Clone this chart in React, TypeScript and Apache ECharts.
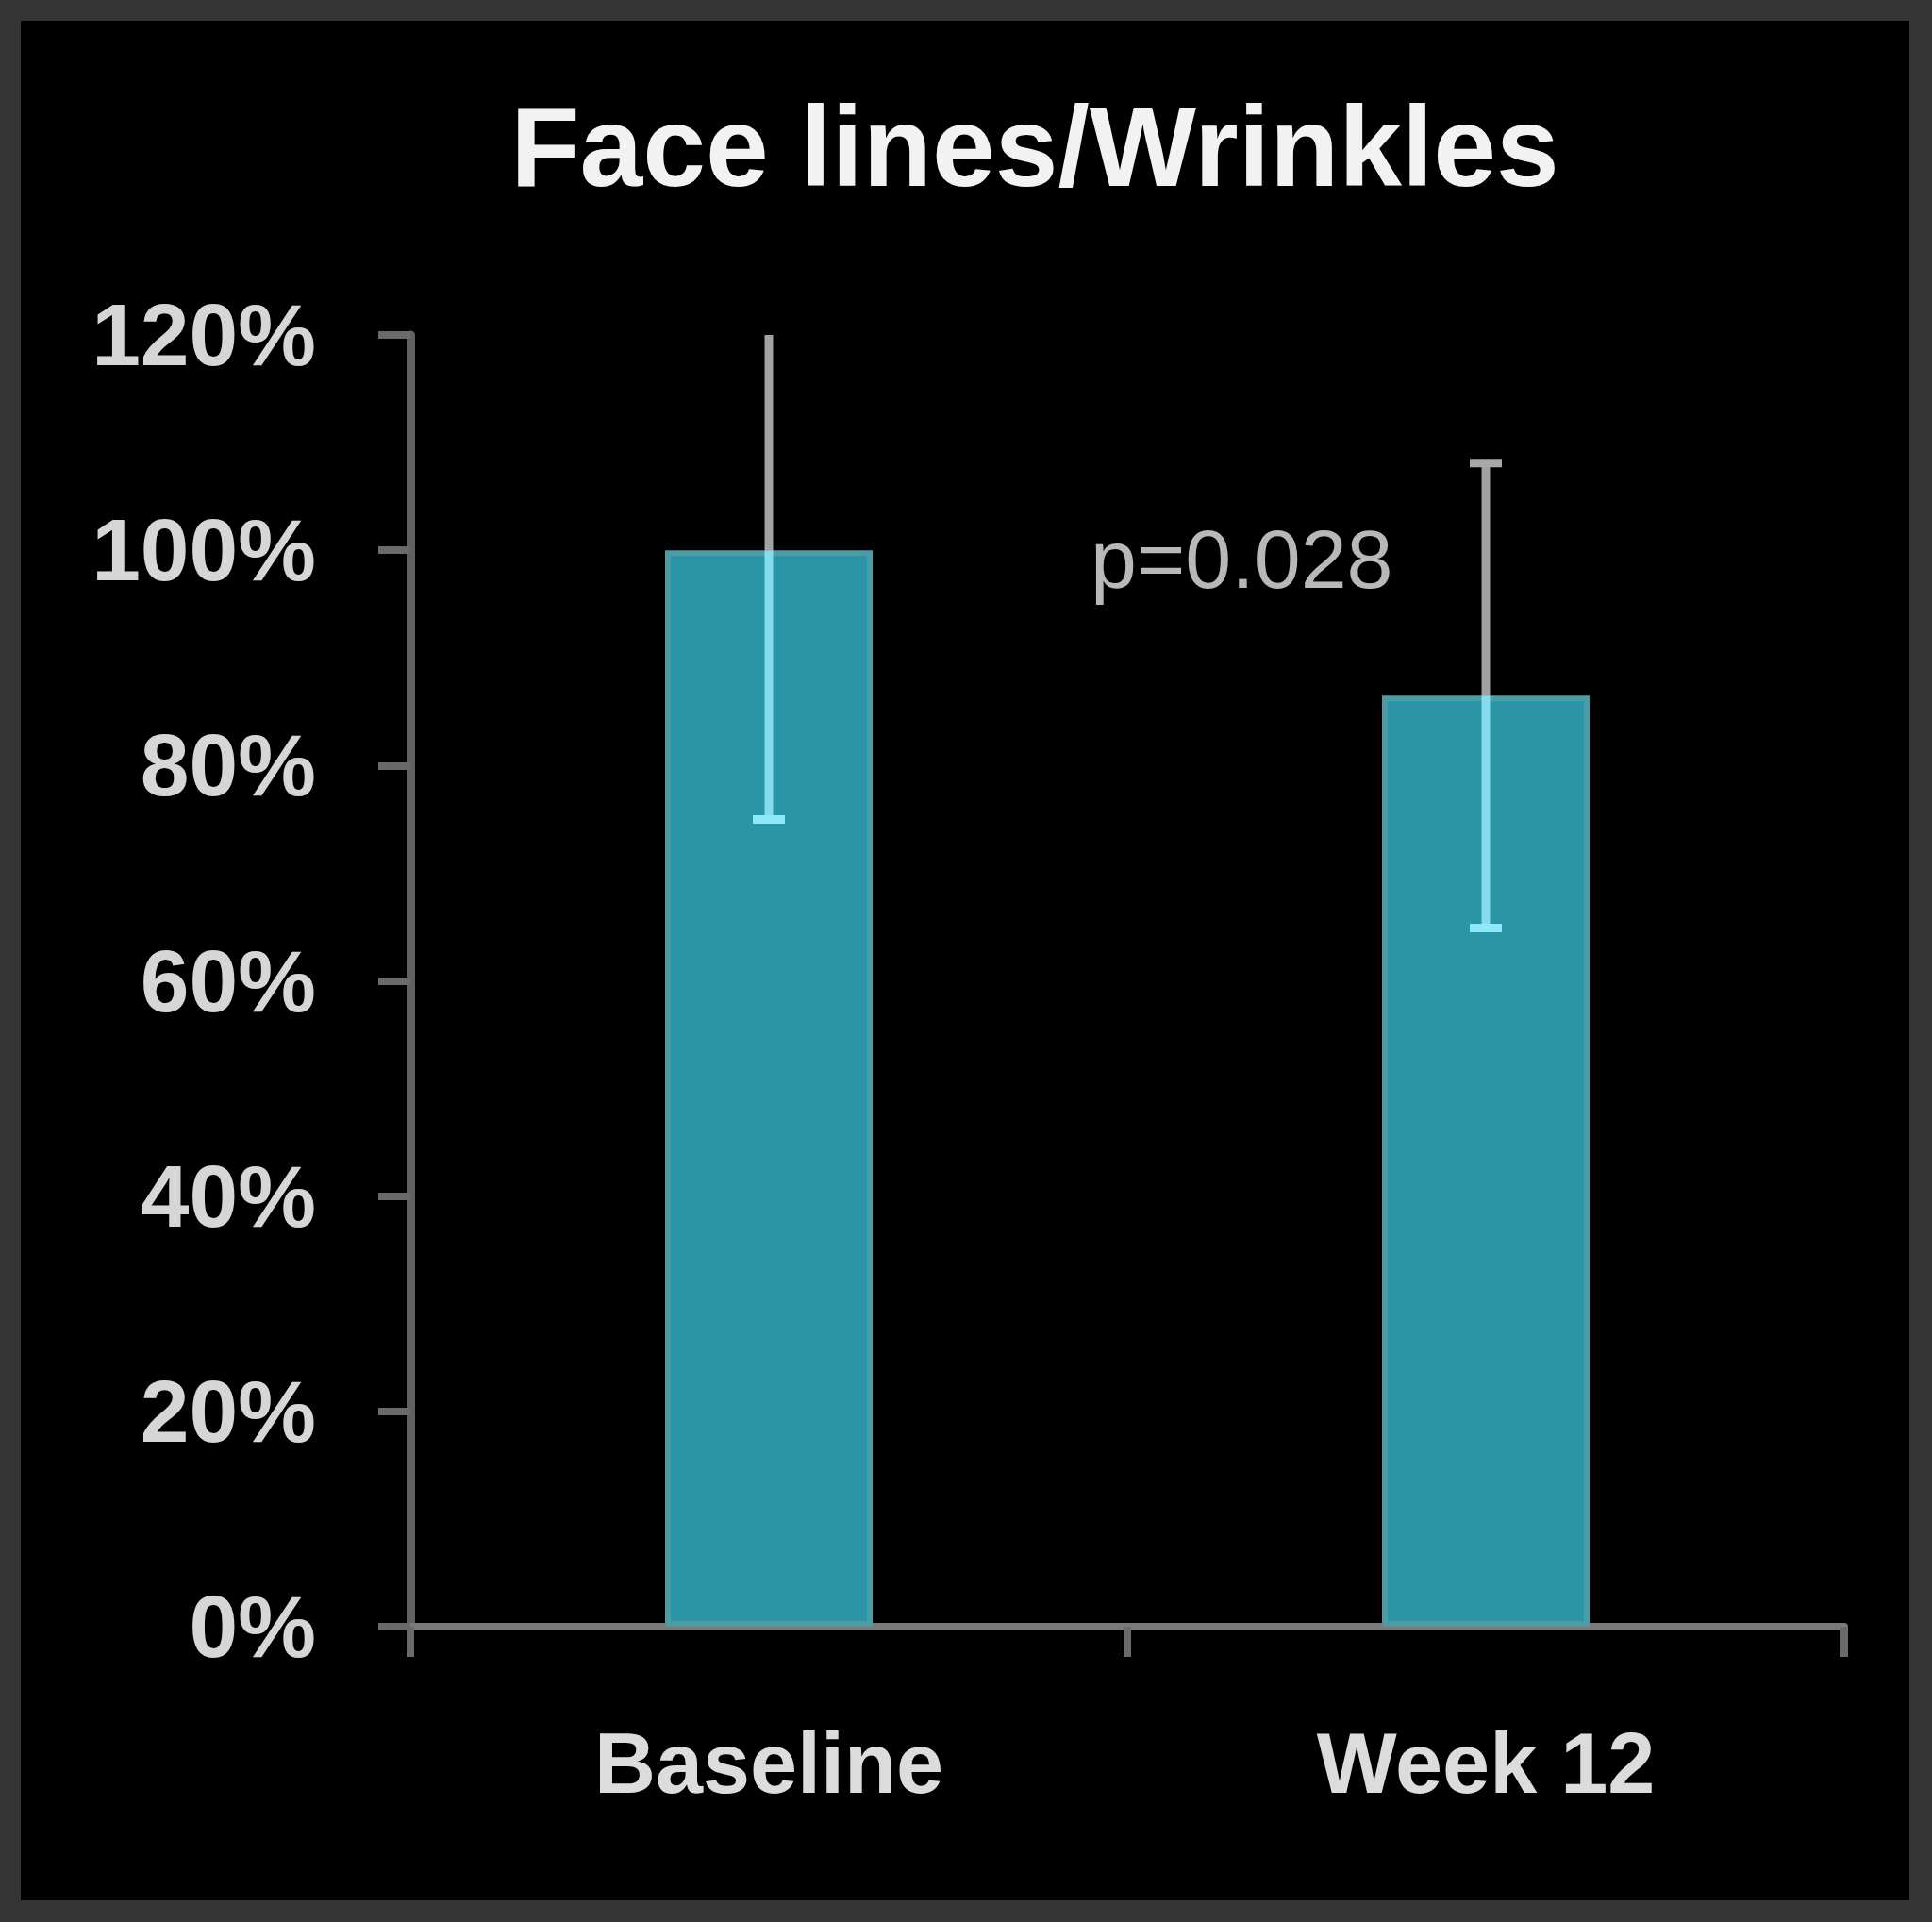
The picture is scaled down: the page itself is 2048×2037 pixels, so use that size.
import React, { useEffect, useRef } from "react";
import * as echarts from "echarts";

const categories = ["Baseline", "Week 12"];
const meanValues = [100, 86.5];
const errorValues = [25, 21.6];
const yMin = 0;
const yMax = 120;
const yInterval = 20;
const titleText = "Face lines/Wrinkles";
const pValueText = "p=0.028";

const FONT = "'Liberation Sans', Arial, Helvetica, sans-serif";

export default function App() {
  const ref = useRef<HTMLDivElement>(null);

  useEffect(() => {
    if (!ref.current) return;
    const chart = echarts.init(ref.current, null, { renderer: "svg" });
    const errData = categories.map((_, i) => [i, meanValues[i], errorValues[i]]);

    chart.setOption({
      animation: false,
      backgroundColor: "#353535",
      graphic: [
        {
          type: "rect",
          z: -100,
          silent: true,
          shape: { x: 22, y: 22, width: 2002, height: 1992 },
          style: { fill: "#000000" },
        },
        {
          type: "text",
          z: 100,
          x: 1097,
          y: 155,
          style: {
            text: titleText,
            fill: "#f2f2f2",
            font: `bold 120px ${FONT}`,
            textAlign: "center",
            textVerticalAlign: "middle",
          },
        },
        {
          type: "text",
          z: 100,
          x: 1156,
          y: 592,
          style: {
            text: pValueText,
            fill: "#b8b8b8",
            font: `88px ${FONT}`,
            textAlign: "left",
            textVerticalAlign: "middle",
          },
        },
      ],
      grid: {
        left: 435,
        right: 93,
        top: 355,
        bottom: 313,
        containLabel: false,
        outerBoundsMode: "none",
      },
      xAxis: {
        type: "category",
        data: categories,
        axisLine: { show: true, lineStyle: { color: "#7a7a7a", width: 8 } },
        axisTick: {
          show: true,
          alignWithLabel: false,
          length: 32,
          lineStyle: { color: "#6a6a6a", width: 8 },
        },
        axisLabel: {
          show: true,
          margin: 100,
          fontSize: 90,
          fontWeight: "bold",
          fontFamily: FONT,
          color: "#dcdcdc",
        },
        splitLine: { show: false },
      },
      yAxis: {
        type: "value",
        min: yMin,
        max: yMax,
        interval: yInterval,
        axisLine: { show: true, lineStyle: { color: "#606060", width: 9 } },
        axisTick: {
          show: true,
          length: 34,
          lineStyle: { color: "#6a6a6a", width: 8 },
        },
        axisLabel: {
          show: true,
          margin: 100,
          fontSize: 93,
          fontWeight: "bold",
          fontFamily: FONT,
          color: "#d6d6d6",
          formatter: "{value}%",
        },
        splitLine: { show: false },
      },
      series: [
        {
          type: "bar",
          data: meanValues,
          barWidth: 220,
          itemStyle: {
            color: "#2995a7",
            borderColor: "#4a9ca6",
            borderWidth: 6,
          },
          z: 2,
        },
        {
          type: "custom",
          coordinateSystem: "cartesian2d",
          data: errData,
          encode: { x: 0, y: 1 },
          z: 5,
          clip: false,
          renderItem: (_params: any, api: any) => {
            const idx = api.value(0);
            const mean = api.value(1);
            const err = api.value(2);
            const clipped = mean + err > yMax;
            const hiVal = Math.min(mean + err, yMax);
            const loVal = mean - err;
            const top = api.coord([idx, hiVal]);
            const mid = api.coord([idx, mean]);
            const low = api.coord([idx, loVal]);
            const x = mid[0];
            const half = 17;
            const children: any[] = [
              {
                type: "line",
                shape: { x1: x, y1: top[1], x2: x, y2: mid[1] },
                style: { stroke: "#a2a2a2", lineWidth: 9 },
              },
              {
                type: "line",
                shape: { x1: x, y1: mid[1], x2: x, y2: low[1] },
                style: { stroke: "#86dcee", lineWidth: 9 },
              },
              {
                type: "line",
                shape: { x1: x - half, y1: low[1], x2: x + half, y2: low[1] },
                style: { stroke: "#8de8f8", lineWidth: 9 },
              },
            ];
            if (!clipped) {
              children.push({
                type: "line",
                shape: { x1: x - half, y1: top[1], x2: x + half, y2: top[1] },
                style: { stroke: "#a8a8a8", lineWidth: 9 },
              });
            }
            return { type: "group", children };
          },
        },
      ],
    });

    return () => chart.dispose();
  }, []);

  return (
    <div
      ref={ref}
      style={{ position: "absolute", left: 0, top: 0, width: 2048, height: 2037 }}
    />
  );
}
